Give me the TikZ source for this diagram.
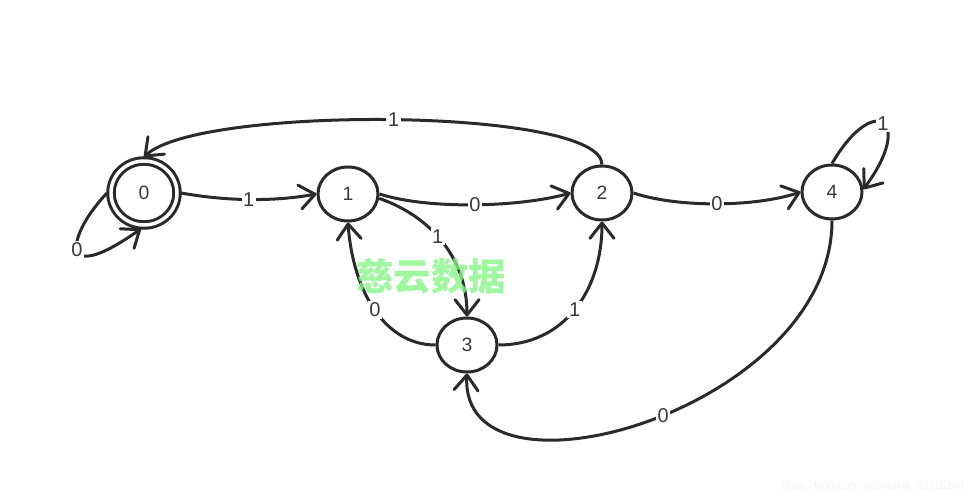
\documentclass[tikz,border=0pt]{standalone}
\usepackage{fontspec}
\setmainfont{Liberation Sans}
\newfontfamily\cjkfont{Noto Sans CJK SC}
\usetikzlibrary{arrows.meta, shapes.geometric}
\definecolor{ink}{HTML}{2A2A2A}
\definecolor{txt}{HTML}{3A3A3A}
\definecolor{wm}{RGB}{135,245,135}
\begin{document}
\begin{tikzpicture}[x=0.75pt,y=0.75pt,
  st/.style={ellipse, draw=ink, line width=2.25pt, minimum width=45pt, minimum height=40.5pt, inner sep=0pt, font=\fontsize{14.5}{16}\selectfont, text=txt},
  acc/.style={st, double, double distance=2.6pt, minimum width=49.5pt, minimum height=48pt, outer sep=3pt},
  trans/.style={draw=ink, line width=2.25pt, -{Straight Barb[length=11.5pt,width=18pt,round]}},
  lbl/.style={fill=white, inner sep=1.2pt, font=\fontsize{15}{17}\selectfont, text=txt}]
\fill[white] (0,0) rectangle (976,500);
\useasboundingbox (0,0) rectangle (976,500);
\node[acc] (n0) at (144,307) {0};
\node[st] (n1) at (348,306) {1};
\node[st] (n2) at (602,307) {2};
\node[st] (n3) at (467,155) {3};
\node[st] (n4) at (832,308) {4};
\draw[trans] (n0.east) .. controls +(45,-8) and +(-45,-8) .. (n1.west) node[lbl,pos=0.5]{1};
\draw[trans] (n0.west) .. controls +(-40,-42) and +(-85,-60) .. (n0.265) node[lbl,pos=0.5]{0};
\draw[trans] (n1.east) .. controls +(50,-16) and +(-50,-14) .. (n2.west) node[lbl,pos=0.5]{0};
\draw[trans] (n1.-8) .. controls +(52,-18) and +(0,58) .. (n3.north) node[lbl,pos=0.45]{1};
\draw[trans] (n3.west) .. controls +(-50,0) and +(5,-70) .. (n1.south) node[lbl,pos=0.5]{0};
\draw[trans] (n3.east) .. controls +(65,0) and +(0,-70) .. (n2.south) node[lbl,pos=0.5]{1};
\draw[trans] (n2.north) .. controls +(0,57) and +(55,52) .. (n0.north) node[lbl,pos=0.5]{1};
\draw[trans] (n2.east) .. controls +(45,-15) and +(-45,-15) .. (n4.west) node[lbl,pos=0.5]{0};
\draw[trans] (n4.north) .. controls +(42,72) and +(52,70) .. (n4.5) node[lbl,pos=0.5]{1};
\draw[trans] (n4.south) .. controls +(0,-190) and +(-8,-142) .. (n3.south) node[lbl,pos=0.47]{0};
\node[font=\cjkfont\bfseries\fontsize{28}{30}\selectfont, text=wm, opacity=0.8] (wm) at (431,224) {慈云数据};
\node[font=\fontsize{8}{10}\selectfont, text=black!4] (src) at (873,13) {https://blog.csdn.net/weixin\_43216249};
\end{tikzpicture}
\end{document}
